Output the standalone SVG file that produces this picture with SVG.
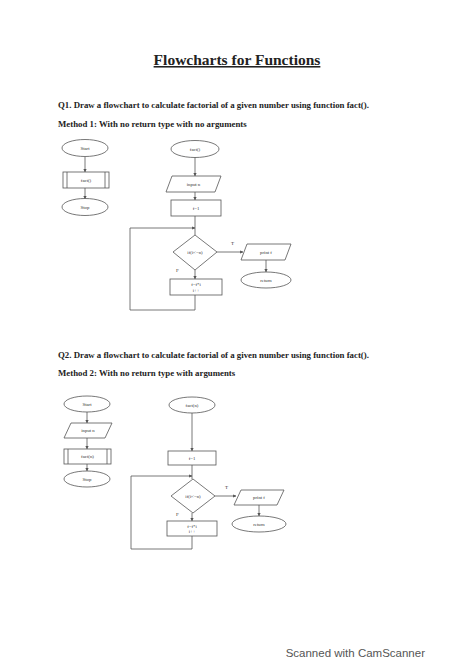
<svg xmlns="http://www.w3.org/2000/svg" width="474" height="670" viewBox="0 0 474 670">
<defs>
<style>
.s{fill:#fff;stroke:#555;stroke-width:0.8}
.c{fill:none;stroke:#555;stroke-width:0.8}
.t{font-family:"Liberation Serif",serif;font-size:4.8px;fill:#333;text-anchor:middle}
.h{font-family:"Liberation Serif",serif;font-size:8.8px;fill:#222;font-weight:bold}
.lb{font-family:"Liberation Serif",serif;font-size:5px;fill:#333}
</style>
<marker id="a" viewBox="0 0 6 6" refX="5.5" refY="3" markerWidth="4" markerHeight="4" orient="auto"><path d="M0,0L6,3L0,6z" fill="#555"/></marker>
</defs>
<rect width="474" height="670" fill="#fff"/>
<text x="237" y="65" text-anchor="middle" font-family="Liberation Serif,serif" font-size="15.5" font-weight="bold" fill="#222" text-decoration="underline">Flowcharts for Functions</text>
<text class="h" x="58" y="108">Q1. Draw a flowchart to calculate factorial of a given number using function fact().</text>
<text class="h" x="58" y="127">Method 1: With no return type with no arguments</text>
<text class="h" x="58" y="358">Q2. Draw a flowchart to calculate factorial of a given number using function fact().</text>
<text class="h" x="58" y="376">Method 2: With no return type with arguments</text>
<g id="connectors">
<path class="c" d="M85,157V172" marker-end="url(#a)"/>
<path class="c" d="M85,188V199" marker-end="url(#a)"/>
<path class="c" d="M195,157V176" marker-end="url(#a)"/>
<path class="c" d="M195,192V200" marker-end="url(#a)"/>
<path class="c" d="M195,216V235"/>
<path class="c" d="M130,228H195" marker-end="url(#a)"/>
<path class="c" d="M217,252H243" marker-end="url(#a)"/>
<path class="c" d="M266,260V272" marker-end="url(#a)"/>
<path class="c" d="M195,270V279" marker-end="url(#a)"/>
<path class="c" d="M195,295V310H130V228"/>
<path class="c" d="M87,412V423" marker-end="url(#a)"/>
<path class="c" d="M87,438V449" marker-end="url(#a)"/>
<path class="c" d="M87,464V471" marker-end="url(#a)"/>
<path class="c" d="M192,413V451" marker-end="url(#a)"/>
<path class="c" d="M192,465V479"/>
<path class="c" d="M131,476H192" marker-end="url(#a)"/>
<path class="c" d="M215,496H236" marker-end="url(#a)"/>
<path class="c" d="M259,505V516" marker-end="url(#a)"/>
<path class="c" d="M192,513V521" marker-end="url(#a)"/>
<path class="c" d="M192,536V549H131V476"/>
<text class="lb" x="231" y="245">T</text>
<text class="lb" x="176" y="272">F</text>
<text class="lb" x="225" y="489">T</text>
<text class="lb" x="176" y="516">F</text>
</g>
<g id="n1-start"><ellipse class="s" cx="85" cy="148" rx="23" ry="8.5"/><text class="t" x="85" y="149.5">Start</text></g>
<g id="n1-call"><rect class="s" x="63" y="172" width="46" height="16"/><path class="c" d="M67,172V188M105,172V188"/><text class="t" x="86" y="181.5">fact()</text></g>
<g id="n1-stop"><ellipse class="s" cx="85" cy="207" rx="23" ry="8.5"/><text class="t" x="85" y="208.5">Stop</text></g>
<g id="n1-fstart"><ellipse class="s" cx="195" cy="149" rx="24" ry="8.5"/><text class="t" x="195" y="150.5">fact()</text></g>
<g id="n1-input"><path class="s" d="M172,176H221L215,192H166Z"/><text class="t" x="193.5" y="185.5">input n</text></g>
<g id="n1-init"><rect class="s" x="171" y="200" width="50" height="16"/><text class="t" x="196" y="209.5">f=1</text></g>
<g id="n1-cond"><path class="s" d="M195,235L217,252L195,270L173,252Z"/><text class="t" x="195" y="253.5">if(i&lt;=n)</text></g>
<g id="n1-print"><path class="s" d="M247,244H291L285,260H241Z"/><text class="t" x="266" y="253.5">print f</text></g>
<g id="n1-ret"><ellipse class="s" cx="266" cy="280" rx="25" ry="8"/><text class="t" x="266" y="281.5">return</text></g>
<g id="n1-body"><rect class="s" x="170" y="279" width="52" height="16"/><text class="t" x="196" y="286">f=f*i</text><text class="t" x="196" y="292">i++</text></g>
<g id="n2-start"><ellipse class="s" cx="87" cy="404" rx="23" ry="8"/><text class="t" x="87" y="405.5">Start</text></g>
<g id="n2-input"><path class="s" d="M71,423H112L105,438H64Z"/><text class="t" x="88" y="432">input n</text></g>
<g id="n2-call"><rect class="s" x="64" y="449" width="47" height="15"/><path class="c" d="M68,449V464M107,449V464"/><text class="t" x="87.5" y="458">fact(n)</text></g>
<g id="n2-stop"><ellipse class="s" cx="87" cy="479" rx="23" ry="8"/><text class="t" x="87" y="480.5">Stop</text></g>
<g id="n2-fstart"><ellipse class="s" cx="192" cy="405" rx="23" ry="8"/><text class="t" x="192" y="406.5">fact(n)</text></g>
<g id="n2-init"><rect class="s" x="168" y="451" width="48" height="14"/><text class="t" x="192" y="459.5">f=1</text></g>
<g id="n2-cond"><path class="s" d="M193,479L215,496L193,513L171,496Z"/><text class="t" x="193" y="497.5">if(i&lt;=n)</text></g>
<g id="n2-print"><path class="s" d="M241,490H284L277,505H234Z"/><text class="t" x="259" y="499">print f</text></g>
<g id="n2-ret"><ellipse class="s" cx="259" cy="524" rx="27" ry="8"/><text class="t" x="259" y="525.5">return</text></g>
<g id="n2-body"><rect class="s" x="167" y="521" width="50" height="15"/><text class="t" x="192" y="527.5">f=f*i</text><text class="t" x="192" y="533">i++</text></g>
<text x="425" y="657" text-anchor="end" font-family="Liberation Sans,sans-serif" font-size="11.5" fill="#555">Scanned with CamScanner</text>
</svg>
